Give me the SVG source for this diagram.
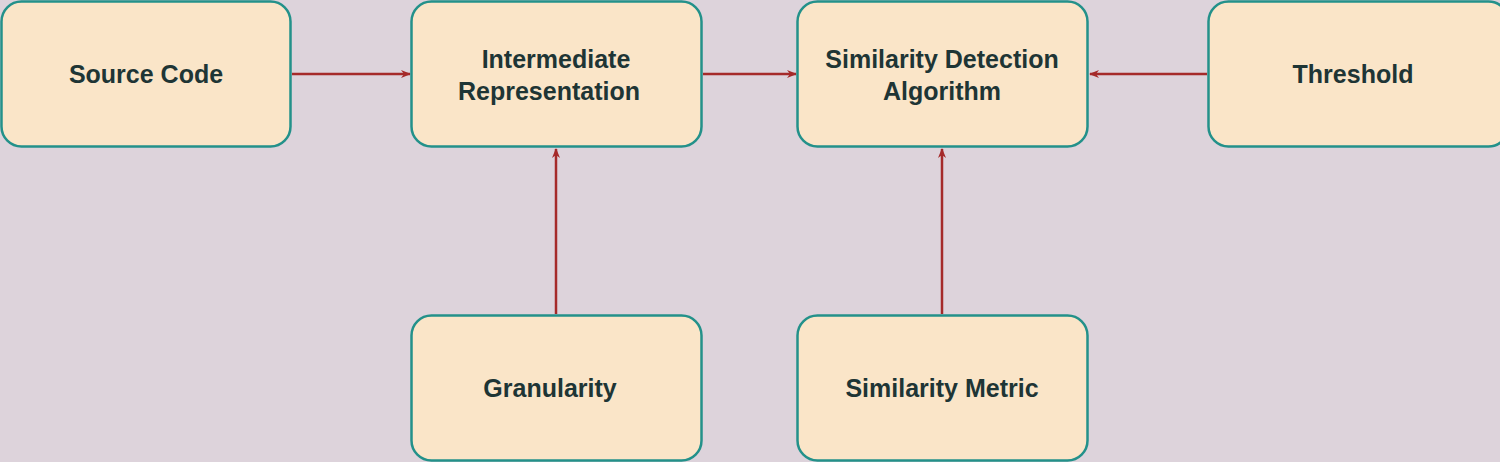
<svg xmlns="http://www.w3.org/2000/svg" width="1500" height="462" viewBox="0 0 1500 462">
<style>
.n rect{fill:#FAE5C8;stroke:#23918A;stroke-width:2.5}
.n text{font-family:"Liberation Sans",Arial,sans-serif;font-weight:bold;font-size:25px;fill:#1E3535;text-anchor:middle}
.c path{stroke:#A52A2A;stroke-width:2.5;fill:none;marker-end:url(#a)}
</style>
<defs><marker id="a" viewBox="0 0 20 20" refX="18" refY="10" markerWidth="10" markerHeight="10" markerUnits="userSpaceOnUse" orient="auto"><path d="M0,2 L20,10 L0,18 L6,10 Z" fill="#A52A2A"/></marker></defs>
<rect width="1500" height="462" fill="#DDD3DB"/>
<g class="c">
<path d="M292,74 H410"/>
<path d="M703,74 H796"/>
<path d="M1207,74 H1090"/>
<path d="M556,314 V149"/>
<path d="M942,314 V149"/>
</g>
<g id="source" class="n"><rect x="1.5" y="1.5" width="289" height="145" rx="20"/><text x="146" y="83">Source Code</text></g>
<g id="ir" class="n"><rect x="411.5" y="1.5" width="290" height="145" rx="20"/><text x="556" y="68">Intermediate</text><text x="549" y="100">Representation</text></g>
<g id="sda" class="n"><rect x="797.5" y="1.5" width="290" height="145" rx="20"/><text x="942" y="68">Similarity Detection</text><text x="942" y="100">Algorithm</text></g>
<g id="threshold" class="n"><rect x="1208.5" y="1.5" width="300" height="145" rx="20"/><text x="1353" y="83">Threshold</text></g>
<g id="gran" class="n"><rect x="411.5" y="315.5" width="290" height="145" rx="20"/><text x="550" y="397">Granularity</text></g>
<g id="metric" class="n"><rect x="797.5" y="315.5" width="290" height="145" rx="20"/><text x="942" y="397">Similarity Metric</text></g>
</svg>
